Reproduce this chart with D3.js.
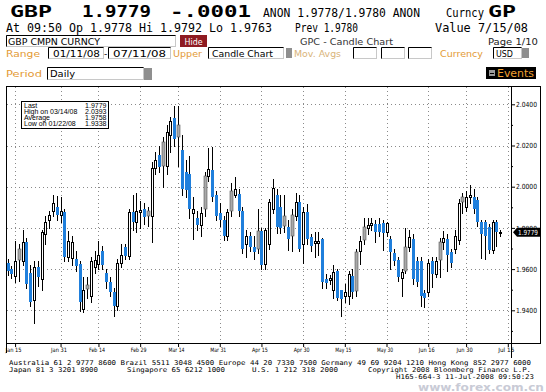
<!DOCTYPE html>
<html><head><meta charset="utf-8">
<script src="https://cdn.jsdelivr.net/npm/d3@7"></script>
<style>body{margin:0;background:#fff}svg{display:block}</style>
</head><body>
<svg id="c" width="546" height="392"></svg>
<script>
// ---------- DATA ----------
const opens = [1.9630,1.9600,1.9565,1.9700,1.9640,1.9730,1.9580,1.9450,1.9610,1.9550,
1.9770,1.9840,1.9880,1.9900,1.9865,1.9875,1.9660,1.9655,1.9650,1.9625,
1.9405,1.9525,1.9470,1.9610,1.9625,1.9690,1.9580,1.9535,1.9490,1.9420,
1.9630,1.9705,1.9665,1.9875,1.9830,1.9875,1.9890,1.9880,1.9860,2.0090,
2.0155,2.0215,2.0100,2.0250,2.0335,2.0300,2.0180,2.0070,2.0060,1.9870,
1.9850,1.9815,2.0050,2.0050,2.0080,1.9960,1.9870,1.9840,1.9760,1.9980,
1.9960,1.9965,1.9880,1.9720,1.9760,1.9705,1.9785,1.9785,1.9625,1.9720,
1.9890,1.9960,1.9900,1.9860,1.9805,1.9865,1.9860,1.9925,1.9720,1.9875,
1.9755,1.9728,1.9725,1.9745,1.9550,1.9545,1.9500,1.9590,1.9500,1.9470,
1.9470,1.9565,1.9685,1.9690,1.9805,1.9800,1.9815,1.9820,1.9820,1.9825,
1.9780,1.9745,1.9680,1.9645,1.9555,1.9705,1.9705,1.9745,1.9640,1.9640,
1.9485,1.9490,1.9640,1.9575,1.9730,1.9730,1.9745,1.9685,1.9700,1.9740,
1.9950,1.9900,1.9950,1.9950,1.9935,1.9830,1.9830,1.9805,1.9695,1.9830,
1.9778];
const highs = [1.9650,1.9615,1.9735,1.9720,1.9790,1.9750,1.9620,1.9640,1.9640,1.9790,
1.9860,1.9880,1.9960,1.9955,1.9950,1.9890,1.9785,1.9760,1.9690,1.9640,
1.9560,1.9560,1.9660,1.9690,1.9735,1.9710,1.9600,1.9560,1.9510,1.9650,
1.9720,1.9720,1.9890,1.9960,1.9970,1.9930,1.9920,1.9900,2.0120,2.0170,
2.0200,2.0240,2.0300,2.0340,2.0390,2.0393,2.0250,2.0130,2.0150,1.9950,
1.9880,1.9900,2.0070,2.0190,2.0195,1.9980,1.9920,1.9860,1.9890,2.0020,
2.0045,1.9990,1.9900,1.9790,1.9780,1.9760,1.9890,1.9800,1.9800,1.9940,
2.0035,1.9990,1.9960,1.9960,1.9840,1.9890,1.9970,1.9960,1.9900,1.9915,
1.9770,1.9778,1.9780,1.9750,1.9575,1.9570,1.9620,1.9600,1.9500,1.9530,
1.9590,1.9600,1.9700,1.9760,1.9850,1.9850,1.9850,1.9840,1.9850,1.9840,
1.9830,1.9760,1.9700,1.9660,1.9600,1.9800,1.9790,1.9770,1.9660,1.9660,
1.9500,1.9650,1.9660,1.9660,1.9750,1.9785,1.9770,1.9700,1.9790,1.9940,
1.9970,1.9980,2.0010,1.9990,1.9950,1.9840,1.9840,1.9820,1.9840,1.9840,
1.9792];
const lows = [1.9570,1.9555,1.9535,1.9540,1.9620,1.9510,1.9420,1.9338,1.9520,1.9500,
1.9720,1.9800,1.9860,1.9840,1.9830,1.9640,1.9640,1.9620,1.9590,1.9395,
1.9390,1.9460,1.9440,1.9580,1.9600,1.9600,1.9510,1.9470,1.9370,1.9400,
1.9610,1.9650,1.9650,1.9790,1.9780,1.9800,1.9820,1.9810,1.9730,2.0060,
2.0070,2.0000,2.0060,2.0170,2.0200,2.0100,1.9960,1.9950,1.9850,1.9745,
1.9790,1.9760,1.9860,2.0030,1.9930,1.9840,1.9810,1.9740,1.9740,1.9860,
1.9950,1.9860,1.9680,1.9660,1.9690,1.9647,1.9680,1.9600,1.9600,1.9700,
1.9870,1.9775,1.9775,1.9780,1.9695,1.9690,1.9840,1.9690,1.9630,1.9720,
1.9690,1.9660,1.9670,1.9510,1.9510,1.9530,1.9460,1.9450,1.9370,1.9440,
1.9430,1.9460,1.9470,1.9625,1.9720,1.9770,1.9790,1.9730,1.9760,1.9695,
1.9760,1.9600,1.9620,1.9540,1.9470,1.9580,1.9690,1.9530,1.9520,1.9420,
1.9415,1.9470,1.9515,1.9560,1.9560,1.9700,1.9590,1.9610,1.9680,1.9720,
1.9870,1.9880,1.9920,1.9870,1.9810,1.9655,1.9650,1.9680,1.9680,1.9710,
1.9763];
const closes = [1.9590,1.9575,1.9638,1.9645,1.9730,1.9530,1.9440,1.9610,1.9560,1.9780,
1.9830,1.9865,1.9920,1.9865,1.9880,1.9660,1.9735,1.9730,1.9615,1.9440,
1.9500,1.9505,1.9640,1.9645,1.9670,1.9620,1.9535,1.9490,1.9420,1.9630,
1.9670,1.9665,1.9875,1.9830,1.9880,1.9885,1.9855,1.9860,2.0090,2.0130,
2.0095,2.0100,2.0265,2.0320,2.0230,2.0240,1.9990,1.9985,1.9890,1.9890,
1.9815,1.9870,1.9890,2.0085,1.9950,1.9860,1.9840,1.9760,1.9875,1.9880,
1.9990,1.9880,1.9700,1.9760,1.9705,1.9685,1.9700,1.9620,1.9790,1.9925,
1.9995,1.9805,1.9800,1.9810,1.9745,1.9760,1.9925,1.9700,1.9875,1.9745,
1.9710,1.9735,1.9735,1.9535,1.9534,1.9555,1.9585,1.9460,1.9455,1.9490,
1.9575,1.9490,1.9495,1.9735,1.9740,1.9815,1.9825,1.9780,1.9780,1.9775,
1.9825,1.9685,1.9640,1.9560,1.9585,1.9590,1.9755,1.9550,1.9535,1.9470,
1.9460,1.9630,1.9575,1.9640,1.9645,1.9750,1.9670,1.9630,1.9760,1.9920,
1.9925,1.9950,1.9960,1.9890,1.9830,1.9770,1.9760,1.9695,1.9830,1.9780,
1.9779];
const firstDay = "2008-01-11", lastAxisDay = "2008-07-15";
const tickDates = ["2008-01-15","2008-01-31","2008-02-14","2008-02-29","2008-03-14","2008-03-31",
  "2008-04-15","2008-04-30","2008-05-15","2008-05-30","2008-06-16","2008-06-30","2008-07-15"];
const tickLabels = ["Jan 15","Jan 31","Feb 14","Feb 29","Mar 14","Mar 31","Apr 15","Apr 30",
  "May 15","May 30","Jun 16","Jun 30","Jul 15"];
const yTicks = [1.94,1.96,1.98,2.00,2.02,2.04];
const yMinor = [1.93,1.95,1.97,1.99,2.01,2.03];
const statLabels = ["Last","High on  03/14/08","Average","Low on  01/22/08"];
const statValues = ["1.9779","2.0393","1.9758","1.9338"];
const lastPrice = 1.9779;

// ---------- HELPERS ----------
const svg = d3.select("#c");
const parse = d3.timeParse("%Y-%m-%d"), fmt = d3.timeFormat("%Y-%m-%d");
function txt(g, s, x, y, o) {
  o = o || {};
  const t = g.append("text").attr("x", x).attr("y", y).text(s)
    .attr("font-family", o.ff || "DejaVu Sans Mono")
    .attr("font-size", o.fs || 12)
    .attr("font-weight", o.fw || "normal")
    .attr("fill", o.fill || "#000");
  if (o.tl) t.attr("textLength", o.tl).attr("lengthAdjust", "spacingAndGlyphs");
  if (o.anchor) t.attr("text-anchor", o.anchor);
  return t;
}
const orange = "#e39a35", tan = "#d9b47a";

// ---------- HEADER ----------
const hd = svg.append("g");
txt(hd, "GBP", 10, 17, {fs: 15, fw: "bold", tl: 42});
txt(hd, "1.9779", 82, 17, {fs: 15, fw: "bold", tl: 69});
txt(hd, "-.0001", 170, 17, {fs: 15, fw: "bold", tl: 81});
txt(hd, "ANON 1.9778/1.9780 ANON", 263, 17, {fs: 12, tl: 157});
txt(hd, "Curncy", 446, 17, {fs: 12, tl: 38});
txt(hd, "GP", 488, 17, {fs: 15, fw: "bold", tl: 28});
txt(hd, "At 09:50 Op 1.9778 Hi 1.9792 Lo 1.9763", 6, 32, {fs: 12, tl: 266});
txt(hd, "Prev 1.9780", 295, 32, {fs: 12, tl: 63});
txt(hd, "Value  7/15/08", 435, 32, {fs: 12, tl: 93});

// row 3
function box(g, x0, y0, w, h) {
  g.append("rect").attr("x", x0 + 0.5).attr("y", y0 + 0.5).attr("width", w).attr("height", h)
    .attr("fill", "#fff").attr("stroke", "#c8c8c8");
  g.append("path").attr("d", `M${x0 + 0.5},${y0 + h + 0.5}V${y0 + 0.5}H${x0 + w + 0.5}`)
    .attr("fill", "none").attr("stroke", "#000");
}
const sf = {ff: "DejaVu Sans", fs: 9};
box(hd, 6, 35, 169, 11);
txt(hd, "GBP CMPN CURNCY", 8, 44.5, Object.assign({tl: 92}, sf));
hd.append("rect").attr("x", 180).attr("y", 35).attr("width", 27).attr("height", 12).attr("fill", "#8e1b22");
txt(hd, "Hide", 193.5, 44.5, Object.assign({fill: "#fff", anchor: "middle", tl: 18}, sf));
txt(hd, "GPC - Candle Chart", 300, 44.5, Object.assign({tl: 93, fill: "#333"}, sf));
txt(hd, "Page 1/10", 488, 44.5, Object.assign({tl: 50, fill: "#222"}, sf));

// row 4
txt(hd, "Range", 6, 57, Object.assign({tl: 34, fill: orange}, sf));
box(hd, 48, 47, 55, 11);
txt(hd, "01/11/08", 53, 56.5, Object.assign({tl: 47}, sf));
txt(hd, "-", 104, 56.5, sf);
box(hd, 108, 47, 62, 11);
txt(hd, "07/11/08", 113, 56.5, Object.assign({tl: 53}, sf));
txt(hd, "Upper", 173, 57, Object.assign({tl: 29, fill: orange}, sf));
box(hd, 208, 47, 75, 11);
txt(hd, "Candle Chart", 212, 56.5, Object.assign({tl: 61}, sf));
hd.append("rect").attr("x", 286).attr("y", 48).attr("width", 6).attr("height", 10).attr("fill", "#8f8f8f");
txt(hd, "Mov. Avgs", 294, 57, Object.assign({tl: 47, fill: tan}, sf));
box(hd, 353, 47, 23, 11);
box(hd, 381, 47, 23, 11);
box(hd, 408, 47, 23, 11);
txt(hd, "Currency", 440, 57, Object.assign({tl: 43, fill: orange}, sf));
box(hd, 493, 47, 28, 11);
txt(hd, "USD", 496, 56.5, Object.assign({tl: 17}, sf));
hd.append("rect").attr("x", 522).attr("y", 48).attr("width", 7).attr("height", 10).attr("fill", "#8f8f8f");

// row 5
txt(hd, "Period", 6, 77, Object.assign({tl: 36, fill: orange}, sf));
box(hd, 47, 67, 96, 12);
txt(hd, "Daily", 50, 77, Object.assign({tl: 25}, sf));
hd.append("rect").attr("x", 144).attr("y", 68).attr("width", 8).attr("height", 12).attr("fill", "#8f8f8f");
hd.append("rect").attr("x", 486).attr("y", 67).attr("width", 50).attr("height", 12).attr("fill", "#000");
hd.append("rect").attr("x", 489).attr("y", 70).attr("width", 6).attr("height", 6).attr("fill", "#9a9a9a");
hd.append("line").attr("x1", 490).attr("x2", 494).attr("y1", 73.5).attr("y2", 73.5).attr("stroke", "#000");
txt(hd, "Events", 497, 77, {ff: "DejaVu Sans", fs: 10, tl: 37, fill: "#f0a030"});

// ---------- CHART ----------
const allDays = d3.timeDays(parse(firstDay), d3.timeDay.offset(parse(lastAxisDay), 1))
  .filter(d => d.getDay() !== 0 && d.getDay() !== 6).map(fmt);
const x = d3.scalePoint().domain(allDays).range([7.5, 507.8]);
const y = d3.scaleLinear().domain([1.94, 2.04]).range([310.3, 104.3]);
const L = 7, R = 511, T = 86, B = 344;

const ch = svg.append("g");
ch.append("rect").attr("x", 6.5).attr("y", 86.5).attr("width", 534).attr("height", 257)
  .attr("fill", "#fff").attr("stroke", "#000");

// grid
ch.selectAll(".hg").data(yTicks).join("line")
  .attr("x1", L).attr("x2", R)
  .attr("y1", d => Math.round(y(d)) + 0.5).attr("y2", d => Math.round(y(d)) + 0.5)
  .attr("stroke", "#8a8a8a").attr("stroke-dasharray", "1,3");
ch.selectAll(".vg").data(tickDates).join("line")
  .attr("x1", d => Math.round(x(d)) + 0.5).attr("x2", d => Math.round(x(d)) + 0.5)
  .attr("y1", T + 1).attr("y2", B)
  .attr("stroke", "#8a8a8a").attr("stroke-dasharray", "1,3");

// candles
const data = opens.map((o, i) => ({d: allDays[i], o, h: highs[i], l: lows[i], c: closes[i],
  pc: i > 0 ? closes[i - 1] : Infinity}));
const cg = ch.append("g");
cg.selectAll("line").data(data).join("line")
  .attr("x1", d => Math.round(x(d.d)) + 0.5).attr("x2", d => Math.round(x(d.d)) + 0.5)
  .attr("y1", d => Math.round(y(d.h))).attr("y2", d => Math.round(y(d.l)) + 1)
  .attr("stroke", "#000");
cg.selectAll("rect").data(data).join("rect")
  .each(function (d) {
    const cx = Math.round(x(d.d));
    const top = Math.round(y(Math.max(d.o, d.c))), bot = Math.round(y(Math.min(d.o, d.c)));
    const s = d3.select(this);
    if (d.c >= d.o) {
      s.attr("x", cx - 0.5).attr("y", top + 0.5).attr("width", 2).attr("height", Math.max(bot - top, 1))
        .attr("fill", "#fff").attr("stroke", "#000");
    } else {
      s.attr("x", cx - 1).attr("y", top).attr("width", 3).attr("height", Math.max(bot - top, 1))
        .attr("fill", d.c > d.pc ? "#a9a9a9" : "#1f7fdc")
        .attr("stroke", d.c > d.pc ? "#555" : "none").attr("stroke-width", 0.6);
    }
  });

// axes
const fa = {ff: "DejaVu Sans", fs: 6.5};
const ra = ch.append("g").attr("transform", `translate(${R},0)`)
  .call(d3.axisRight(y).tickValues(yTicks).tickSize(4).tickFormat(d3.format(".4f")));
ra.select(".domain").remove();
ra.selectAll("line").attr("stroke", "#000");
ra.selectAll("text").attr("x", 5).attr("font-family", fa.ff).attr("font-size", 7)
  .attr("textLength", 21).attr("lengthAdjust", "spacingAndGlyphs");
const rm = ch.append("g").attr("transform", `translate(${R},0)`)
  .call(d3.axisRight(y).tickValues(yMinor).tickSize(2).tickFormat(""));
rm.select(".domain").remove();
rm.selectAll("line").attr("stroke", "#000");

const ba = ch.append("g").attr("transform", `translate(0,${B})`)
  .call(d3.axisBottom(x).tickValues(tickDates).tickSize(3).tickFormat((d, i) => tickLabels[i]));
ba.select(".domain").remove();
ba.selectAll("line").attr("stroke", "#000");
ba.selectAll("text").attr("y", 4).attr("dx", -2).attr("font-family", fa.ff).attr("font-size", 6)
  .attr("textLength", 16).attr("lengthAdjust", "spacingAndGlyphs").attr("fill", "#000");

ch.append("line").attr("x1", L).attr("x2", R + 0.5).attr("y1", B - 0.5).attr("y2", B - 0.5).attr("stroke", "#000");
ch.append("line").attr("x1", R + 0.5).attr("x2", R + 0.5).attr("y1", T).attr("y2", 358).attr("stroke", "#000");
ch.append("line").attr("x1", 6.5).attr("x2", 6.5).attr("y1", T).attr("y2", 353).attr("stroke", "#000");

// last price tag
const ly = y(lastPrice);
ch.append("path").attr("d", `M${R + 2},${ly}L${R + 6},${ly - 4.5}H540V${ly + 4.5}H${R + 6}Z`).attr("fill", "#000");
txt(ch, d3.format(".4f")(lastPrice), 518, ly + 2.5, {ff: "DejaVu Sans", fs: 7, tl: 20, fill: "#fff"});

// stats box
const sb = ch.append("g");
sb.append("rect").attr("x", 21.5).attr("y", 101.5).attr("width", 87).attr("height", 27)
  .attr("fill", "#fff").attr("stroke", "#000");
statLabels.forEach((s, i) => {
  txt(sb, s, 24, 107.5 + i * 6.2, {ff: "Liberation Sans", fs: 7});
  txt(sb, statValues[i], 106.5, 107.5 + i * 6.2, {ff: "Liberation Sans", fs: 7, anchor: "end"});
});

// ---------- FOOTER ----------
const ft = svg.append("g");
const ff = {ff: "DejaVu Sans Mono", fs: 6.6};
txt(ft, "Australia 61 2 9777 8600 Brazil 5511 3048 4500 Europe 44 20 7330 7500 Germany 49 69 9204 1210 Hong Kong 852 2977 6000", 9, 365, Object.assign({tl: 522}, ff));
txt(ft, "Japan 81 3 3201 8900", 9, 372, Object.assign({tl: 89}, ff));
txt(ft, "Singapore 65 6212 1000", 127, 372, Object.assign({tl: 98}, ff));
txt(ft, "U.S. 1 212 318 2000", 252, 372, Object.assign({tl: 86}, ff));
txt(ft, "Copyright 2008 Bloomberg Finance L.P.", 368, 372, Object.assign({tl: 163}, ff));
txt(ft, "H165-664-3 11-Jul-2008 09:50:23", 396, 378.5, Object.assign({tl: 138}, ff));
txt(ft, "www.forex.com.cn", 418, 390.5, {ff: "DejaVu Sans", fs: 11, fw: "bold", tl: 126, fill: "#c9cbd6"});
</script>
</body></html>
